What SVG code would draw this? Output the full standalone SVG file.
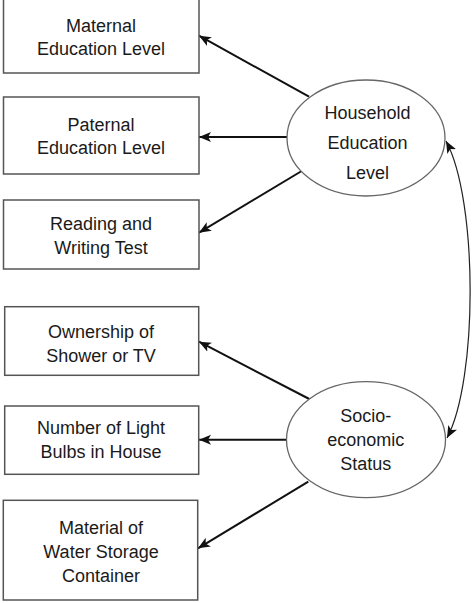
<svg xmlns="http://www.w3.org/2000/svg" width="474" height="603" viewBox="0 0 474 603">
<style>
.box{fill:#fff;stroke:#555;stroke-width:1.5}
.ell{fill:#fff;stroke:#666;stroke-width:1.3}
.t{font-family:"Liberation Sans",Arial,sans-serif;font-size:18px;fill:#1a1a1a;text-anchor:middle}
.ar{stroke:#111;stroke-width:2;fill:none;marker-end:url(#ah)}
.cv{stroke:#222;stroke-width:1.2;fill:none;marker-start:url(#ah2);marker-end:url(#ah2)}
</style>
<defs>
<marker id="ah" markerUnits="userSpaceOnUse" markerWidth="14" markerHeight="12" refX="12" refY="5" orient="auto">
<path d="M0,0 L12,5 L0,10 L3,5 z" fill="#111"/>
</marker>
<marker id="ah2" markerUnits="userSpaceOnUse" markerWidth="14" markerHeight="12" refX="12" refY="5" orient="auto-start-reverse">
<path d="M0,0 L12,5 L0,10 L3,5 z" fill="#111"/>
</marker>
</defs>
<rect width="474" height="603" fill="#fff"/>
<g id="connectors">
<line class="ar" x1="309" y1="96.7" x2="199" y2="35.7"/>
<line class="ar" x1="287" y1="137" x2="199" y2="137"/>
<line class="ar" x1="301.7" y1="171" x2="199" y2="232.7"/>
<line class="ar" x1="309.3" y1="399" x2="199" y2="341.7"/>
<line class="ar" x1="287" y1="439.7" x2="199" y2="439.7"/>
<line class="ar" x1="308.3" y1="481.7" x2="198" y2="548.3"/>
<path class="cv" d="M446,141 C478,200 478,380 447,438"/>
</g>
<g id="maternal">
<rect class="box" x="3.5" y="-1" width="195.5" height="74"/>
<text class="t" x="101" y="31.7">Maternal</text>
<text class="t" x="101" y="55">Education Level</text>
</g>
<g id="paternal">
<rect class="box" x="3.5" y="97" width="195.5" height="77"/>
<text class="t" x="101" y="130.7">Paternal</text>
<text class="t" x="101" y="154.3">Education Level</text>
</g>
<g id="reading">
<rect class="box" x="3.5" y="200" width="195.5" height="69"/>
<text class="t" x="101" y="230">Reading and</text>
<text class="t" x="101" y="254">Writing Test</text>
</g>
<g id="ownership">
<rect class="box" x="4.7" y="306.7" width="194" height="68.6"/>
<text class="t" x="101" y="338.3">Ownership of</text>
<text class="t" x="101" y="362.3">Shower or TV</text>
</g>
<g id="bulbs">
<rect class="box" x="4.7" y="406" width="194" height="68.3"/>
<text class="t" x="101" y="434">Number of Light</text>
<text class="t" x="101" y="457.7">Bulbs in House</text>
</g>
<g id="water">
<rect class="box" x="3.3" y="500.3" width="194.4" height="99.7"/>
<text class="t" x="101" y="534.3">Material of</text>
<text class="t" x="101" y="557.7">Water Storage</text>
<text class="t" x="101" y="582.3">Container</text>
</g>
<g id="household">
<ellipse class="ell" cx="366" cy="138" rx="79" ry="58"/>
<text class="t" x="367.5" y="118.7">Household</text>
<text class="t" x="367.5" y="149">Education</text>
<text class="t" x="367.5" y="179.3">Level</text>
</g>
<g id="ses">
<ellipse class="ell" cx="366" cy="439.7" rx="79.5" ry="58"/>
<text class="t" x="365.7" y="421.7">Socio-</text>
<text class="t" x="365.7" y="445.7">economic</text>
<text class="t" x="365.7" y="470">Status</text>
</g>
</svg>
